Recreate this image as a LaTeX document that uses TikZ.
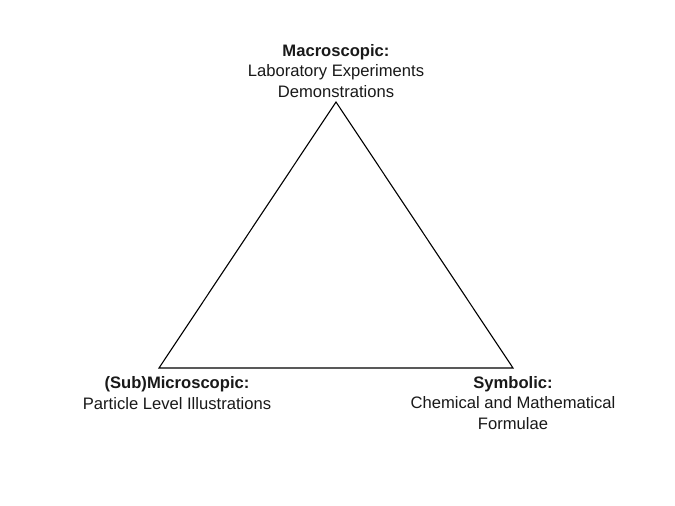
\documentclass[tikz,border=0pt]{standalone}
\usepackage{fontspec}
\setmainfont{Liberation Sans}
\begin{document}
\begin{tikzpicture}[x=1pt,y=-1pt,
  lbl/.style={align=center,inner sep=0pt,anchor=base,text=black!90,
    font=\fontsize{16.6}{20.2}\selectfont},
  edge/.style={draw=black,line width=1.1pt,line join=miter}]
\useasboundingbox[fill=white] (0,0) rectangle (675,506);
\coordinate (top) at (336,102);
\coordinate (bl) at (159,368);
\coordinate (br) at (513,368);
\draw[edge] (top) -- (br) -- (bl) -- cycle;
\node[lbl] (macro) at (336,97) {\textbf{Macroscopic:}\\Laboratory Experiments\\Demonstrations};
\node[lbl] (micro) at (177,409) {\textbf{(Sub)Microscopic:}\\Particle Level Illustrations};
\node[lbl] (symb) at (513,429) {\textbf{Symbolic:}\\Chemical and Mathematical\\Formulae};
\end{tikzpicture}
\end{document}
